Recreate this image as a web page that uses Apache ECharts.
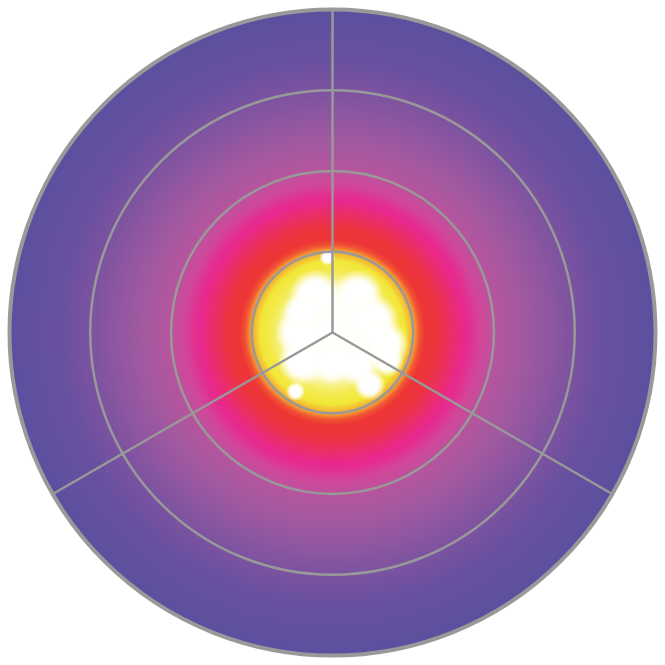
<!DOCTYPE html>
<html>
<head>
<meta charset="utf-8">
<script src="https://cdn.jsdelivr.net/npm/echarts@6/dist/echarts.min.js"></script>
<style>html,body{margin:0;padding:0;background:#fff}#main{width:665px;height:665px}</style>
</head>
<body>
<div id="main"></div>
<script>
// Radial intensity profile (radius in axis units, intensity 0-100)
const fieldRadius = [0, 0.45, 0.58, 0.7, 0.8, 0.89, 0.97, 1.02, 1.08, 1.15, 1.3, 1.45, 1.63, 1.7, 1.82, 1.92, 2.04, 2.35, 2.72, 2.97, 3.34, 3.72, 4.0];
const fieldValue  = [100, 99, 91, 84, 81, 80, 74, 70, 63, 60, 59, 55, 50, 48, 41, 38, 33, 28, 21, 16, 10, 5, 1];

// Hot spots near the centre: radius (axis units), angle (deg), spread (axis units)
const hotRadius = [0.52, 0.57, 0.52, 0.66, 0.76, 0.79, 0.50, 0.35, 0.51, 0.40, 0.86, 0.93, 0.45];
const hotAngle  = [334.7, 34.4, 73.3, 103.0, 117.0, 144.6, 142.0, 180, 227, 270, 212.1, 356.2, 303.7];
const hotSpread = [0.31, 0.31, 0.33, 0.31, 0.21, 0.2, 0.27, 0.29, 0.31, 0.31, 0.12, 0.1, 0.25];

// Axis ticks
const radiusTicks = {min: 0, max: 4, interval: 1};
const angleTicks = {min: 0, max: 360, interval: 120};

const palette = ['#5a4f9f', '#6a50a0', '#8a55a0', '#a85aa0', '#d0489a', '#e8288e',
                 '#ee3535', '#f59a30', '#f2e838', '#faf6b8', '#ffffff'];

const chart = echarts.init(document.getElementById('main'), null, {renderer: 'canvas'});

function dist(p, cx, cy) { return Math.hypot(p[0] - cx, p[1] - cy); }

const option = {
  animation: false,
  backgroundColor: '#ffffff',
  polar: {center: ['50%', '50%'], radius: 323},
  angleAxis: {
    type: 'value', startAngle: 90, clockwise: true,
    min: angleTicks.min, max: angleTicks.max, interval: angleTicks.interval,
    z: 10,
    axisLine: {show: true, lineStyle: {color: '#999999', width: 4}},
    axisTick: {show: false}, axisLabel: {show: false},
    splitLine: {show: true, lineStyle: {color: '#999999', width: 2.5}}
  },
  radiusAxis: {
    type: 'value', min: radiusTicks.min, max: radiusTicks.max, interval: radiusTicks.interval,
    z: 10,
    axisLine: {show: false}, axisTick: {show: false}, axisLabel: {show: false},
    splitLine: {show: true, lineStyle: {color: '#999999', width: 2.5}}
  },
  visualMap: {
    show: false, type: 'continuous', seriesIndex: 0, dimension: 2,
    min: 0, max: 100, inRange: {color: palette}
  },
  series: [
    {
      type: 'custom', coordinateSystem: 'polar', z: 2, silent: true,
      data: fieldRadius.map((r, i) => [r, 0, fieldValue[i]]),
      encode: {radius: 0, angle: 1},
      renderItem: function (params, api) {
        if (params.dataIndexInside !== params.dataInsideLength - 1) return null;
        const cs = params.coordSys;
        const cx = cs.cx, cy = cs.cy, R = cs.r;
        const stops = [];
        for (let i = 0; i < params.dataInsideLength; i++) {
          const p = api.coord([api.value(0, i), 0]);
          const off = Math.min(1, dist(p, cx, cy) / R);
          stops.push({offset: off, color: api.visual('color', i)});
        }
        return {
          type: 'circle',
          shape: {cx: cx, cy: cy, r: R},
          style: {fill: new echarts.graphic.RadialGradient(cx, cy, R, stops, true)}
        };
      }
    },
    {
      type: 'custom', coordinateSystem: 'polar', z: 3, silent: true,
      data: hotRadius.map((r, i) => [r, hotAngle[i], hotSpread[i]]),
      encode: {radius: 0, angle: 1},
      renderItem: function (params, api) {
        const cs = params.coordSys;
        const c = api.coord([api.value(0), api.value(1)]);
        const s = dist(api.coord([api.value(2), 0]), cs.cx, cs.cy);
        return {
          type: 'circle',
          shape: {cx: c[0], cy: c[1], r: s},
          style: {
            fill: new echarts.graphic.RadialGradient(0.5, 0.5, 0.5, [
              {offset: 0, color: 'rgba(255,255,255,1)'},
              {offset: 0.55, color: 'rgba(255,255,255,1)'},
              {offset: 0.75, color: 'rgba(255,255,250,0.6)'},
              {offset: 1, color: 'rgba(255,255,240,0)'}
            ])
          }
        };
      }
    }
  ]
};
chart.setOption(option);
</script>
</body>
</html>
